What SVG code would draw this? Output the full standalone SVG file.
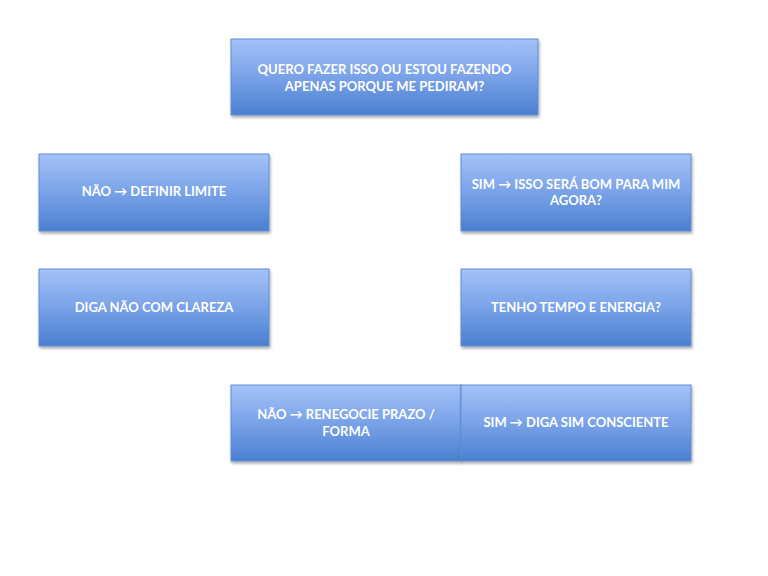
<svg xmlns="http://www.w3.org/2000/svg" width="768" height="576" viewBox="0 0 768 576">
<defs>
<linearGradient id="g" x1="0" y1="0" x2="0" y2="1">
<stop offset="0" stop-color="#a5c2f8"/>
<stop offset="0.5" stop-color="#79a2e8"/>
<stop offset="1" stop-color="#4a7fcf"/>
</linearGradient>
<filter id="sh" x="-10%" y="-10%" width="120%" height="130%">
<feGaussianBlur in="SourceAlpha" stdDeviation="1.5"/>
<feOffset dx="1" dy="2" result="b"/>
<feComponentTransfer><feFuncA type="linear" slope="0.35"/></feComponentTransfer>
<feMerge><feMergeNode/><feMergeNode in="SourceGraphic"/></feMerge>
</filter>
</defs>
<style>
.box{fill:url(#g);stroke:#5f8fd6;stroke-width:1;filter:url(#sh)}
.t{font-family:Lato,"Open Sans","Liberation Sans",sans-serif;font-weight:bold;font-size:13px;fill:#ffffff;text-anchor:middle}
</style>
<rect width="768" height="576" fill="#ffffff"/>
<g id="connectors"></g>
<g id="n1"><rect class="box" x="231" y="39" width="307" height="76"/>
<text class="t" x="384.5" y="74">QUERO FAZER ISSO OU ESTOU FAZENDO</text>
<text class="t" x="384.5" y="91">APENAS PORQUE ME PEDIRAM?</text></g>
<g id="n2"><rect class="box" x="39" y="154" width="230" height="77"/>
<text class="t" x="154" y="196">NÃO → DEFINIR LIMITE</text></g>
<g id="n3"><rect class="box" x="461" y="154" width="230" height="77"/>
<text class="t" x="576" y="189">SIM → ISSO SERÁ BOM PARA MIM</text>
<text class="t" x="576" y="205">AGORA?</text></g>
<g id="n4"><rect class="box" x="39" y="269" width="230" height="77"/>
<text class="t" x="154" y="312">DIGA NÃO COM CLAREZA</text></g>
<g id="n5"><rect class="box" x="461" y="269" width="230" height="77"/>
<text class="t" x="576" y="312">TENHO TEMPO E ENERGIA?</text></g>
<g id="n6"><rect class="box" x="231" y="385" width="230" height="76"/>
<text class="t" x="346" y="419">NÃO → RENEGOCIE PRAZO /</text>
<text class="t" x="346" y="436">FORMA</text></g>
<g id="n7"><rect class="box" x="461" y="385" width="230" height="76"/>
<text class="t" x="576" y="427">SIM → DIGA SIM CONSCIENTE</text></g>
</svg>
